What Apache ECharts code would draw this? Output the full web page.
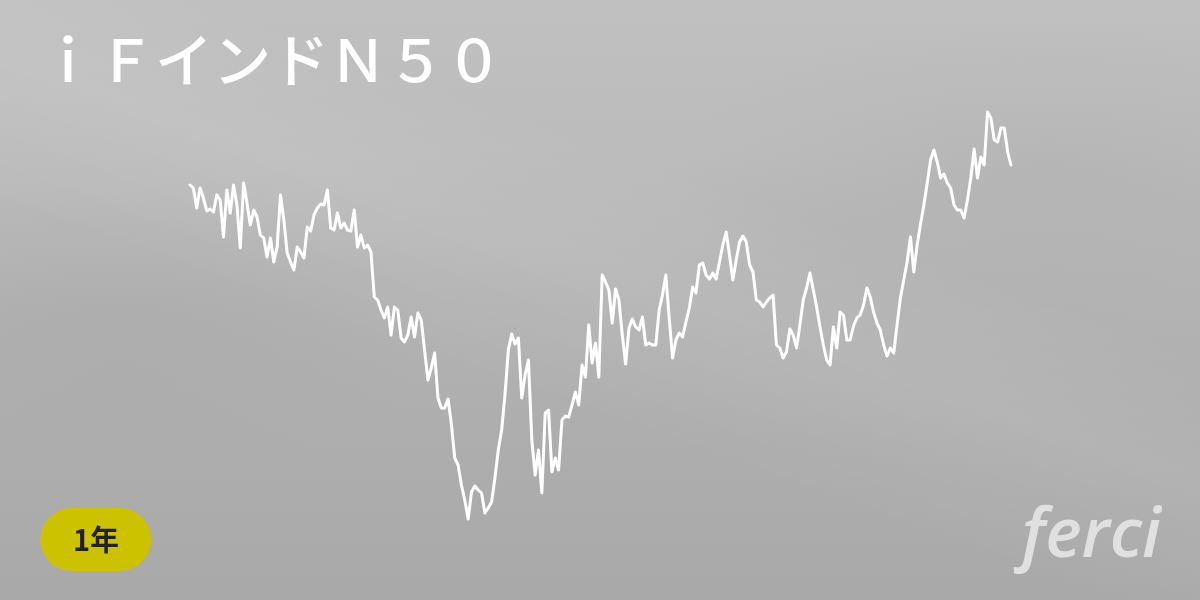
<!DOCTYPE html>
<html>
<head>
<meta charset="utf-8">
<script src="https://cdn.jsdelivr.net/npm/echarts@6/dist/echarts.min.js"></script>
<style>
html,body{margin:0;padding:0;width:1200px;height:600px;overflow:hidden;}
#bg{position:absolute;left:0;top:0;width:1200px;height:600px;
background:
 linear-gradient(199.6deg, rgba(255,255,255,0) 34%, rgba(255,255,255,0.075) 47%, rgba(255,255,255,0) 62%),
 radial-gradient(ellipse 500px 200px at 1050px 170px, rgba(140,140,140,0.12), rgba(140,140,140,0) 75%),
 radial-gradient(ellipse 420px 200px at 120px 330px, rgba(140,140,140,0.12), rgba(140,140,140,0) 75%),
 linear-gradient(180deg,#c0c0c0 0%,#bcbcbc 25%,#b3b3b3 50%,#adadad 75%,#a9a9a9 100%);}
#chart{position:absolute;left:0;top:0;width:1200px;height:600px;}
</style>
</head>
<body>
<div id="bg"></div>
<div id="chart"></div>
<script>
// Fund name and period badge
const titleText = 'ｉＦインドＮ５０';
const periodText = '1年';
const brandText = 'ferci';

// One year of daily values (arbitrary index units)
const days = [];
const values = [
415,412,392,412,402,389,391,388,405,400,363,410,387,415,395,352,417,397,375,390,
383,365,362,343,362,338,353,405,380,347,338,330,353,348,342,373,369,385,392,396,
395,410,372,370,387,372,377,370,369,390,353,365,352,355,348,303,300,290,282,293,
265,293,290,262,258,265,283,263,287,280,250,220,232,247,202,192,192,201,176,142,
135,115,100,81,108,114,110,107,87,92,98,122,150,170,205,250,266,256,262,202,
225,240,160,125,150,107,187,190,128,142,130,180,184,183,195,208,195,235,223,275,
237,257,223,325,318,310,277,311,300,265,236,272,281,273,270,283,255,257,255,255,
290,305,325,282,242,260,267,263,278,292,313,307,335,337,325,321,327,321,338,355,
368,345,320,340,358,364,358,335,328,300,298,293,298,302,305,255,252,242,248,271,
265,252,275,300,312,327,310,293,273,255,240,235,273,252,288,285,260,260,274,282,
285,295,312,303,288,277,270,255,244,252,247,275,302,320,338,363,328,355,376,395,
417,440,450,438,422,426,417,412,395,390,390,382,400,422,451,422,443,435,488,482,
460,458,472,472,448,435
];
for (let i = 0; i < values.length; i++) days.push(i);

const chart = echarts.init(document.getElementById('chart'), null, {renderer: 'canvas'});
chart.setOption({
  backgroundColor: 'transparent',
  animation: false,
  grid: {left: 190, right: 189, top: 0, bottom: 0},
  xAxis: {type: 'category', data: days, show: false, boundaryGap: false},
  yAxis: {type: 'value', min: 0, max: 600, show: false},
  series: [{
    type: 'line',
    data: values,
    showSymbol: false,
    lineStyle: {color: '#ffffff', width: 3, join: 'round', cap: 'round'},
    silent: true
  }],
  graphic: [
    {type: 'text', left: 39, top: 31, style: {text: titleText, fill: '#ffffff',
      font: '500 58px "Noto Sans CJK JP"'}},
    {type: 'rect', shape: {x: 40, y: 508, width: 111, height: 63, r: 31.5},
      style: {fill: '#cdc200'}},
    {type: 'text', x: 96, y: 540, style: {text: periodText, fill: '#222222',
      font: 'bold 29px "Noto Sans CJK JP"', textAlign: 'center', textVerticalAlign: 'middle'}},
    {type: 'text', x: 1161, y: 537, style: {text: brandText, fill: '#e0e0e0',
      font: 'italic 600 69px "Open Sans"', textAlign: 'right', textVerticalAlign: 'middle'}}
  ]
});
</script>
</body>
</html>
